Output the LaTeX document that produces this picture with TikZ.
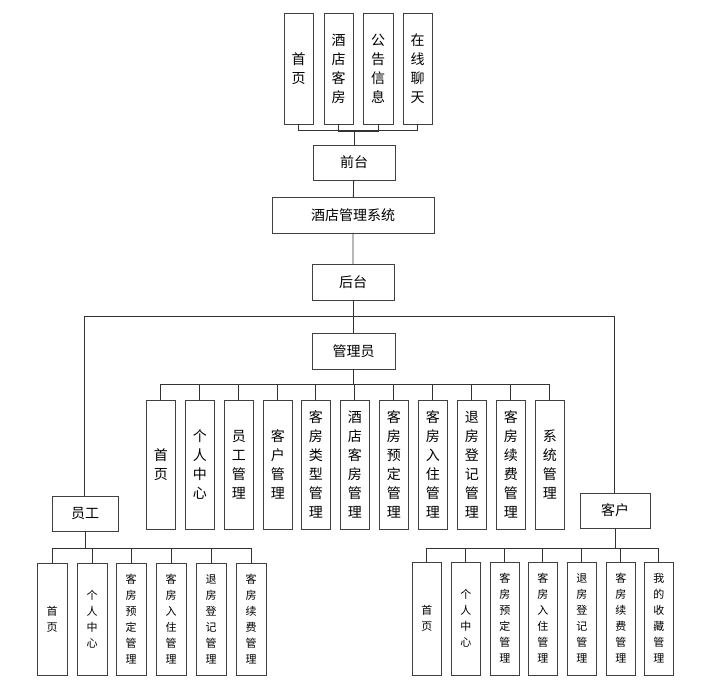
\documentclass[tikz,border=0pt]{standalone}
\usepackage{fontspec}
\setmainfont{Noto Sans CJK SC}
\begin{document}
\begin{tikzpicture}[x=1pt,y=-1pt,line width=0.8pt,
  bx/.style={draw=black!75,fill=white,inner sep=0pt,outer sep=0pt,align=center},
  big/.style={font=\fontsize{14}{19}\selectfont},
  sml/.style={font=\fontsize{11}{16}\selectfont},
  ln/.style={draw=black!80}]
\useasboundingbox (0,0) rectangle (713,687);
\newcommand\bx[7]{\node[bx,#7,minimum width={(#4-#2)*1pt},minimum height={(#5-#3)*1pt}] (#1) at ({(#2+#4)/2},{(#3+#5)/2}) {#6};}
% top
\bx{t1}{284}{13}{313}{124}{首\\页}{big}
\bx{t2}{324}{13}{353}{124}{酒\\店\\客\\房}{big}
\bx{t3}{363}{13}{393}{124}{公\\告\\信\\息}{big}
\bx{t4}{403}{13}{432}{124}{在\\线\\聊\\天}{big}
\bx{qt}{313}{145}{395}{180}{前台}{big}
\bx{sys}{272}{197}{434}{233}{酒店管理系统}{big}
\bx{ht}{312}{264}{394}{300}{后台}{big}
\bx{gly}{312}{333}{395}{369}{管理员}{big}
\bx{yg}{52}{496}{118}{531}{员工}{big}
\bx{kh}{580}{493}{650}{528}{客户}{big}
\draw[ln] (t1.south) -- (t1.south|-0,130) -- (t4.south|-0,130) -- (t4.south);
\draw[ln] (t2.south) -- (t2.south|-0,131) -- (t3.south|-0,131) -- (t3.south);
\draw[ln] (qt.north) -- (qt.north|-0,130);
\draw[ln] (qt) -- (sys) (sys) -- (ht);
\coordinate (hl) at (84,316); \coordinate (hr) at (614,316);
\draw[ln] (ht.south) -- (ht.south|-hl);
\draw[ln] (yg.north-|hl) -- (hl) -- (hr) -- (kh.north-|hr);
\draw[ln] (gly.north) -- (gly.north|-hl);
% admin children
\foreach \x/\t [count=\i] in {146/首\\页,185/个\\人\\中\\心,224/员\\工\\管\\理,263/客\\户\\管\\理,301/客\\房\\类\\型\\管\\理,340/酒\\店\\客\\房\\管\\理,379/客\\房\\预\\定\\管\\理,418/客\\房\\入\\住\\管\\理,457/退\\房\\登\\记\\管\\理,496/客\\房\\续\\费\\管\\理,535/系\\统\\管\\理}{
  \bx{a\i}{\x}{400}{\x+29.5}{529}{\t}{big}
  \draw[ln] (a\i.north) -- (a\i.north|-0,384);
}
\draw[ln] (a1.north|-0,384) -- (a11.north|-0,384) (gly.south) -- (gly.south|-0,384);
% staff children
\foreach \x/\t [count=\i] in {37/首\\页,77/个\\人\\中\\心,116/客\\房\\预\\定\\管\\理,156/客\\房\\入\\住\\管\\理,196/退\\房\\登\\记\\管\\理,236/客\\房\\续\\费\\管\\理}{
  \bx{s\i}{\x}{563}{\x+30}{675}{\t}{sml}
  \draw[ln] (s\i.north) -- (s\i.north|-0,548);
}
\draw[ln] (s1.north|-0,548) -- (s6.north|-0,548) (yg.south) -- (yg.south|-0,548);
% customer children
\foreach \x/\t [count=\i] in {412/首\\页,451/个\\人\\中\\心,490/客\\房\\预\\定\\管\\理,528/客\\房\\入\\住\\管\\理,567/退\\房\\登\\记\\管\\理,606/客\\房\\续\\费\\管\\理,644/我\\的\\收\\藏\\管\\理}{
  \bx{c\i}{\x}{562}{\x+29.5}{675}{\t}{sml}
  \draw[ln] (c\i.north) -- (c\i.north|-0,548);
}
\draw[ln] (c1.north|-0,548) -- (c7.north|-0,548) (kh.south) -- (kh.south|-0,548);
\end{tikzpicture}
\end{document}
